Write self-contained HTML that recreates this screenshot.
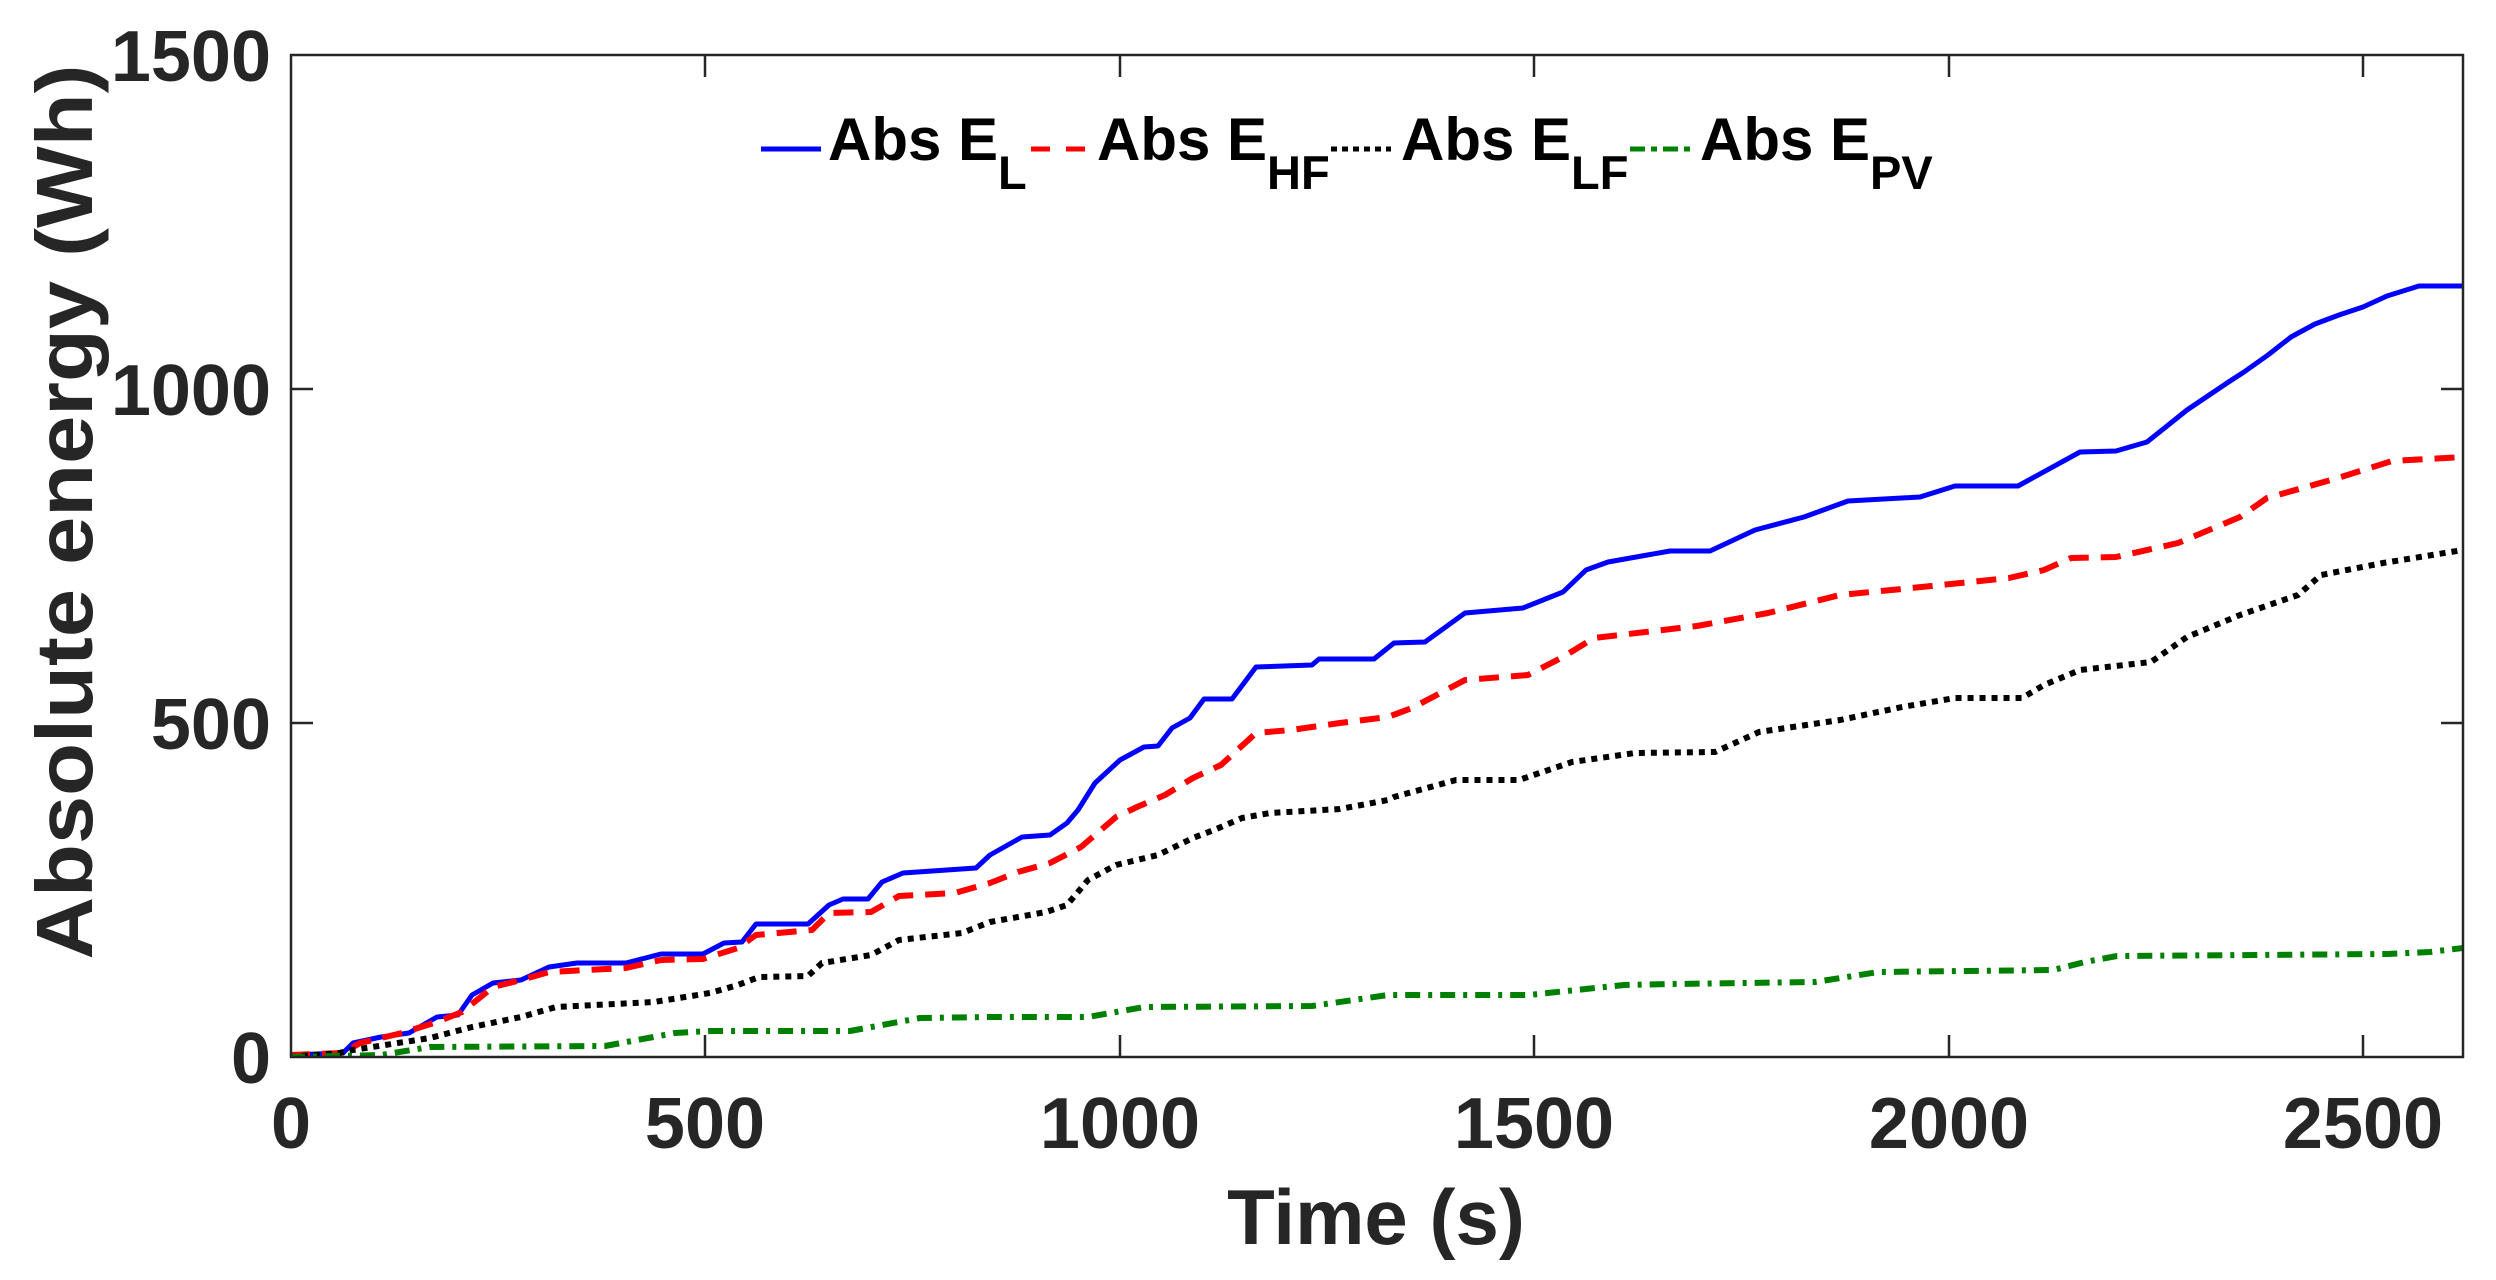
<!DOCTYPE html>
<html><head><meta charset="utf-8"><style>
html,body{margin:0;padding:0;background:#fff;width:2496px;height:1280px;overflow:hidden}
text{font-family:"Liberation Sans",Arial,sans-serif;font-weight:bold}
</style></head><body>
<svg width="2496" height="1280" viewBox="0 0 2496 1280" xmlns="http://www.w3.org/2000/svg">
<rect width="2496" height="1280" fill="#fff"/>
<defs><clipPath id="c"><rect x="291" y="55" width="2172" height="1002"/></clipPath></defs>
<g clip-path="url(#c)" fill="none" stroke-linejoin="round">
<polyline stroke="#0000ff" stroke-width="5" points="290,1055 343,1053 353,1043 381,1037 409,1033 437,1017 458,1015 472,995 493,983 521,980 549,967 577,963 626,963 661,954 703,954 724,943 742,942 756,924 808,924 829,905 843,899 868,899 882,882 903,873 976,868 990,855 1022,837 1050,835 1067,823 1078,810 1095,783 1120,760 1144,747 1158,746 1172,728 1190,718 1204,699 1232,699 1256,667 1312,665 1319,659 1374,659 1394,643 1425,642 1465,613 1523,608 1563,592 1586,570 1608,562 1670,551 1710,551 1755,530 1804,517 1848,501 1920,497 1955,486 2018,486 2080,452 2116,451 2147,442 2187,410 2227,383 2244,372 2268,355 2291,337 2315,324 2339,315 2363,307 2387,296 2419,286 2463,286"/>
<polyline stroke="#ff0000" stroke-width="6" stroke-dasharray="20,12" points="290,1055 343,1053 360,1043 402,1033 437,1022 462,1012 493,987 521,980 549,972 626,968 661,960 703,959 738,948 756,935 812,930 829,913 871,912 899,896 955,893 990,883 1018,872 1050,863 1081,847 1116,817 1137,807 1165,795 1193,778 1221,765 1256,733 1291,730 1340,723 1388,717 1412,708 1465,680 1528,675 1563,657 1594,638 1697,626 1768,613 1840,595 1902,589 2009,578 2044,570 2071,558 2116,557 2178,543 2240,517 2267,498 2338,478 2392,461 2463,457"/>
<polyline stroke="#000" stroke-width="6" stroke-dasharray="6,6" points="290,1057 339,1053 353,1050 430,1038 472,1027 521,1017 556,1007 654,1002 710,993 738,985 759,977 808,976 822,963 871,955 899,940 962,933 990,922 1046,912 1067,905 1088,880 1116,865 1158,855 1193,838 1214,830 1242,818 1270,813 1340,809 1388,800 1394,797 1456,780 1519,780 1572,762 1635,753 1715,752 1759,732 1840,720 1902,707 1955,698 2022,698 2044,685 2080,670 2151,662 2187,637 2240,615 2298,595 2321,575 2383,563 2463,550"/>
<polyline stroke="#008000" stroke-width="6" stroke-dasharray="15,8,4,8" points="290,1057 381,1055 430,1047 605,1046 675,1033 710,1031 850,1031 920,1018 990,1017 1088,1017 1144,1007 1312,1006 1388,995 1481,995 1529,995 1576,990 1624,985 1672,984 1815,982 1847,977 1878,972 2053,970 2085,962 2117,956 2387,954 2430,952 2463,948"/>
</g>
<g stroke="#262626" stroke-width="2.5" fill="none">
<rect x="291" y="55" width="2172" height="1002"/>
<path d="M705,1057v-22M1120,1057v-22M1534,1057v-22M1949,1057v-22M2363,1057v-22M705,55v22M1120,55v22M1534,55v22M1949,55v22M2363,55v22"/>
<path d="M291,723h22M291,389h22M2463,723h-22M2463,389h-22"/>
</g>
<g fill="#262626" font-size="72">
<text x="271" y="81" text-anchor="end">1500</text>
<text x="271" y="415" text-anchor="end">1000</text>
<text x="271" y="749" text-anchor="end">500</text>
<text x="271" y="1083" text-anchor="end">0</text>
<text x="291" y="1148" text-anchor="middle">0</text>
<text x="705" y="1148" text-anchor="middle">500</text>
<text x="1120" y="1148" text-anchor="middle">1000</text>
<text x="1534" y="1148" text-anchor="middle">1500</text>
<text x="1949" y="1148" text-anchor="middle">2000</text>
<text x="2363" y="1148" text-anchor="middle">2500</text>
</g>
<text x="1376" y="1244" text-anchor="middle" font-size="78" fill="#262626">Time (s)</text>
<text transform="translate(92,512) rotate(-90)" text-anchor="middle" font-size="80" textLength="895" lengthAdjust="spacingAndGlyphs" fill="#262626">Absolute energy (Wh)</text>
<g>
<line x1="761" y1="149" x2="821" y2="149" stroke="#0000ff" stroke-width="5"/>
<line x1="1031" y1="149" x2="1090" y2="149" stroke="#ff0000" stroke-width="5" stroke-dasharray="19,16"/>
<line x1="1331" y1="149" x2="1391" y2="149" stroke="#000" stroke-width="5" stroke-dasharray="6,5"/>
<line x1="1630" y1="149" x2="1691" y2="149" stroke="#008000" stroke-width="5" stroke-dasharray="15,6,6,6"/>
</g>
<g font-size="60" fill="#000">
<text x="828" y="160">Abs E<tspan font-size="47" dy="29">L</tspan></text>
<text x="1097" y="160">Abs E<tspan font-size="47" dy="29">HF</tspan></text>
<text x="1401" y="160">Abs E<tspan font-size="47" dy="29">LF</tspan></text>
<text x="1700" y="160">Abs E<tspan font-size="47" dy="29">PV</tspan></text>
</g>
</svg>
</body></html>
